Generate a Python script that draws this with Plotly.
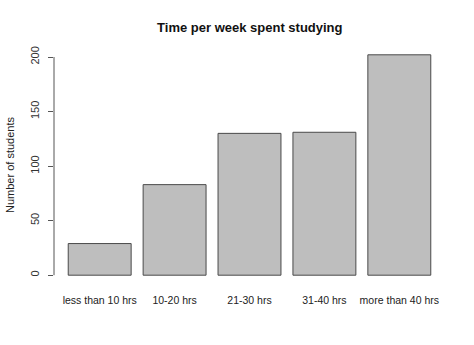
import plotly.graph_objects as go

categories = ["less than 10 hrs", "10-20 hrs", "21-30 hrs", "31-40 hrs", "more than 40 hrs"]
students = [29, 83, 130, 131, 202]
y_ticks = [0, 50, 100, 150, 200]

FONT = "Liberation Sans, Arial, sans-serif"

fig = go.Figure(go.Bar(
    x=categories, y=students,
    marker=dict(color="#bebebe", line=dict(color="#4a4a4a", width=1)),
))

fig.update_layout(
    width=474, height=345,
    margin=dict(l=54, r=28.5, t=45.5, b=60.7, pad=0),
    paper_bgcolor="white", plot_bgcolor="white",
    bargap=0.16,
    showlegend=False,
    font=dict(family=FONT, color="#222"),
    title=dict(text="<b>Time per week spent studying</b>", x=0.527, xanchor="center",
               y=1 - 27 / 345, yanchor="middle",
               font=dict(size=13, family=FONT, color="#111")),
)

fig.update_xaxes(
    range=[-0.61, 4.61], showline=False, showgrid=False, zeroline=False,
    ticks="", tickfont=dict(size=10.5, color="#222"), ticklabelstandoff=8,
    fixedrange=True, automargin=False,
)
fig.update_yaxes(
    range=[-8.08, 210.08], showline=False, showgrid=False, zeroline=False,
    tickvals=y_ticks, ticktext=[str(v) for v in y_ticks],
    ticks="outside", ticklen=5, tickcolor="#555", tickwidth=1,
    tickangle=-90, tickfont=dict(size=11, color="#333"), ticklabelstandoff=5,
    title=dict(text="Number of students", font=dict(size=11, color="#222"), standoff=11),
    automargin=False,
)

fig.add_shape(type="line", xref="paper", yref="y", x0=0, x1=0,
              y0=y_ticks[0], y1=y_ticks[-1], line=dict(color="#555", width=1))

fig.write_html("out.html")
